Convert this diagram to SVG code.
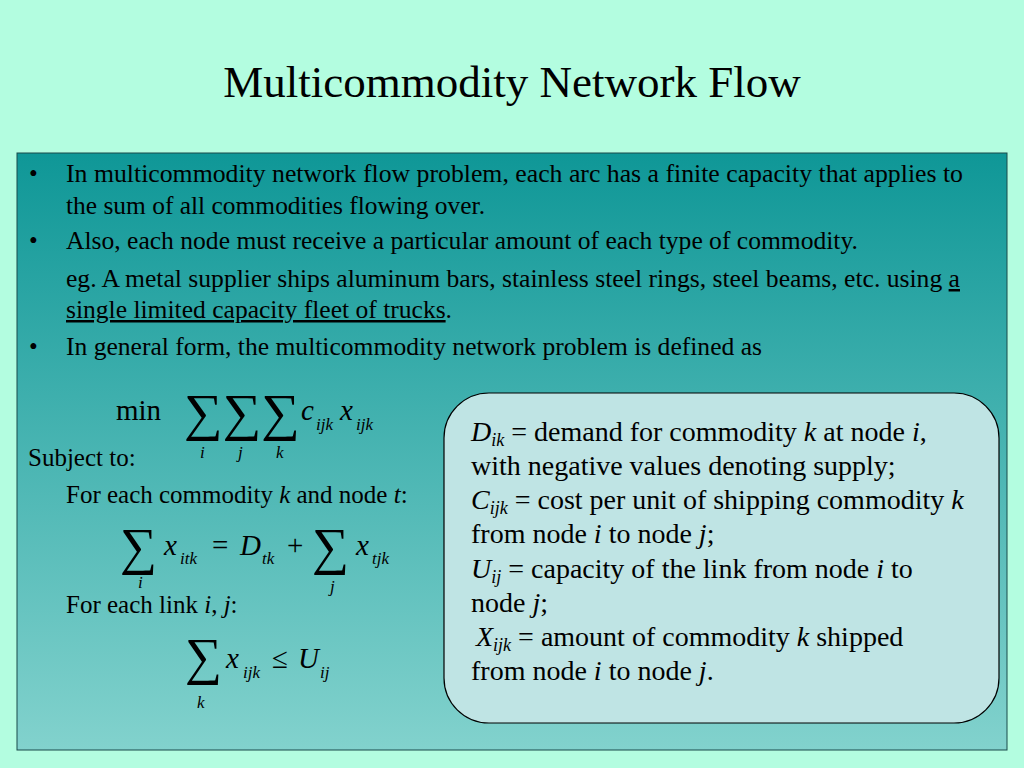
<svg xmlns="http://www.w3.org/2000/svg" width="1024" height="768" viewBox="0 0 1024 768">
<defs>
<linearGradient id="g" x1="0" y1="0" x2="0" y2="1">
<stop offset="0" stop-color="#0f9797"/>
<stop offset="1" stop-color="#82d2cd"/>
</linearGradient>
<style>
text{font-family:"Liberation Serif","Times New Roman",serif;fill:#000}
.b{font-size:25px}
.m{font-size:29px}
.s{font-size:17px;font-style:italic}
.sg{font-size:52px}
.i{font-style:italic}
.r{font-size:28px}
.rs{font-size:18px;font-style:italic}
</style>
</defs>
<rect width="1024" height="768" fill="#b3fde0"/>
<text x="512" y="97" font-size="45" text-anchor="middle">Multicommodity Network Flow</text>
<rect x="17" y="153" width="990" height="597" fill="url(#g)" stroke="#1a4a4a" stroke-width="1"/>
<g>
<text x="29" y="182" class="b">•</text>
<text x="66" y="182" class="b" textLength="897" lengthAdjust="spacingAndGlyphs">In multicommodity network flow problem,  each arc has a finite capacity that applies to</text>
<text x="66" y="214" class="b" textLength="419" lengthAdjust="spacingAndGlyphs">the sum of all commodities flowing over.</text>
<text x="29" y="249" class="b">•</text>
<text x="66" y="249" class="b" textLength="792" lengthAdjust="spacingAndGlyphs">Also, each node must receive a particular amount of each type of commodity.</text>
<text x="66" y="287" class="b" textLength="894" lengthAdjust="spacingAndGlyphs">eg. A metal supplier ships aluminum bars, stainless steel rings, steel beams, etc. using <tspan text-decoration="underline">a</tspan></text>
<text x="66" y="318" class="b" textLength="386" lengthAdjust="spacingAndGlyphs"><tspan text-decoration="underline">single limited capacity fleet of trucks</tspan>.</text>
<text x="29" y="355" class="b">•</text>
<text x="66" y="355" class="b" textLength="696" lengthAdjust="spacingAndGlyphs">In general form, the multicommodity network problem is defined as</text>
<text x="28" y="466" class="b">Subject to:</text>
<text x="66" y="503" class="b">For each commodity <tspan class="i">k</tspan> and node <tspan class="i">t</tspan>:</text>
<text x="66" y="613" class="b">For each link <tspan class="i">i</tspan>, <tspan class="i">j</tspan>:</text>
</g>
<g>
<text x="116" y="420" class="m">min</text>
<text x="184" y="430" class="sg" textLength="116" lengthAdjust="spacingAndGlyphs">∑∑∑</text>
<text x="301" y="420" class="m i">c</text>
<text x="316" y="430" class="s">ijk</text>
<text x="340" y="420" class="m i">x</text>
<text x="356" y="430" class="s">ijk</text>
<text x="200" y="458" class="s">i</text>
<text x="238" y="458" class="s">j</text>
<text x="276" y="458" class="s">k</text>

<text x="120" y="564" class="sg">∑</text>
<text x="164" y="555" class="m i">x</text>
<text x="180" y="564" class="s">itk</text>
<text x="212" y="555" class="m">=</text>
<text x="240" y="555" class="m i">D</text>
<text x="262" y="564" class="s">tk</text>
<text x="287" y="555" class="m">+</text>
<text x="312" y="564" class="sg">∑</text>
<text x="356" y="555" class="m i">x</text>
<text x="372" y="564" class="s">tjk</text>
<text x="138" y="588" class="s">i</text>
<text x="330" y="592" class="s">j</text>

<text x="185" y="674" class="sg">∑</text>
<text x="226" y="668" class="m i">x</text>
<text x="243" y="678" class="s">ijk</text>
<text x="272" y="668" class="m">≤</text>
<text x="298" y="668" class="m i">U</text>
<text x="320" y="678" class="s">ij</text>
<text x="197" y="708" class="s">k</text>
</g>
<g id="defs-box">
<rect x="444" y="393" width="555" height="330" rx="45" fill="#bfe4e4" stroke="#000" stroke-width="1.2"/>
<text x="471" y="441" class="r"><tspan class="i">D</tspan><tspan class="rs" dy="5">ik</tspan><tspan dy="-5"> = demand for commodity </tspan><tspan class="i">k</tspan> at node <tspan class="i">i</tspan>,</text>
<text x="471" y="475" class="r">with negative values denoting supply;</text>
<text x="471" y="509" class="r"><tspan class="i">C</tspan><tspan class="rs" dy="5">ijk</tspan><tspan dy="-5"> = cost per unit of shipping commodity </tspan><tspan class="i">k</tspan></text>
<text x="471" y="543" class="r">from node <tspan class="i">i</tspan> to node <tspan class="i">j</tspan>;</text>
<text x="471" y="578" class="r"><tspan class="i">U</tspan><tspan class="rs" dy="5">ij</tspan><tspan dy="-5"> = capacity of the link from node </tspan><tspan class="i">i</tspan> to</text>
<text x="471" y="612" class="r">node <tspan class="i">j</tspan>;</text>
<text x="476" y="646" class="r"><tspan class="i">X</tspan><tspan class="rs" dy="5">ijk</tspan><tspan dy="-5"> = amount of commodity </tspan><tspan class="i">k</tspan> shipped</text>
<text x="471" y="680" class="r">from node <tspan class="i">i</tspan> to node <tspan class="i">j</tspan>.</text>
</g>
</svg>
